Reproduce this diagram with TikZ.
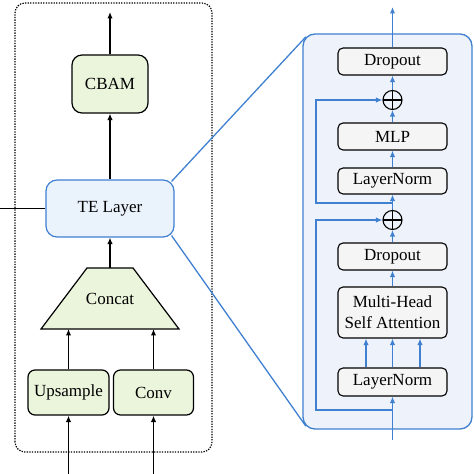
\documentclass[tikz,border=0pt]{standalone}
\usepackage{fontspec}
\setmainfont{Liberation Serif}
\usepackage{tikz}
\usetikzlibrary{positioning,arrows.meta,calc}
\pgfdeclarelayer{background}
\pgfsetlayers{background,main}

\definecolor{cbamgreen}{HTML}{EBF5DC}
\definecolor{teblue}{HTML}{3F80D0}
\definecolor{tefill}{HTML}{EAF2FC}
\definecolor{panelfill}{HTML}{EEF3FB}
\definecolor{blockgray}{HTML}{F5F5F5}

\begin{document}
\begin{tikzpicture}[x=1pt,y=1pt,
			font=\rmfamily\fontsize{17}{21}\selectfont,
			>={Latex[length=6.5pt,width=5.5pt]},
			greenbox/.style={draw=black, line width=1.2pt, fill=cbamgreen, rounded corners=10pt, inner sep=0pt},
			tebox/.style={draw=teblue, line width=1.2pt, fill=tefill, rounded corners=11pt, inner sep=0pt, minimum width=128pt, minimum height=57pt},
			graybox/.style={draw=black, line width=1.1pt, fill=blockgray, rounded corners=5pt, inner sep=0pt, minimum width=109pt},
			plusnode/.style={circle, draw=black, line width=1.1pt, fill=panelfill, minimum size=19pt, inner sep=0pt,
				path picture={\draw[black, line width=1.1pt] (path picture bounding box.north) -- (path picture bounding box.south)
					(path picture bounding box.west) -- (path picture bounding box.east);}},
			flow/.style={draw=teblue, line width=1.3pt},
			blackflow/.style={draw=black, line width=1.4pt},
			]
			\useasboundingbox (0,0) rectangle (474,474);
			%Nodes
			\node[greenbox, minimum width=76pt, minimum height=58pt]      (cbam)  at (110,390)   {CBAM};
			\node[tebox]                                                   (te)    at (110,265.5) {TE Layer};
			\coordinate (cbl) at (41,145);
			\coordinate (cbr) at (179,145);
			\coordinate (ctr) at (133,206);
			\coordinate (ctl) at (87,206);
			\coordinate (ctop) at (110,206);
			\draw[line width=1.2pt, fill=cbamgreen] (cbl) -- (cbr) -- (ctr) -- (ctl) -- cycle;
			\node                                                          (concat) at (110,175.5) {Concat};
			\node[greenbox, rounded corners=7pt, minimum width=81pt, minimum height=45pt] (ups)  at (68.5,81.5) {Upsample};
			\node[greenbox, rounded corners=7pt, minimum width=80pt, minimum height=45pt] (conv) at (153.5,81.5) {Conv};
			
			\node[graybox, minimum height=27pt]  (drop1) at (392.5,412.5) {Dropout};
			\node[plusnode]                      (plus1) at (392.5,374)   {};
			\node[graybox, minimum height=27pt]  (mlp)   at (392.5,337.5) {MLP};
			\node[graybox, minimum height=26pt]  (ln1)   at (392.5,293)   {LayerNorm};
			\node[plusnode]                      (plus2) at (392.5,254)   {};
			\node[graybox, minimum height=27pt]  (drop2) at (392.5,217.5) {Dropout};
			\node[graybox, minimum height=51pt, align=center] (mhsa) at (392.5,161.5) {Multi-Head\\Self Attention};
			\node[graybox, minimum height=28pt]  (ln2)   at (392.5,92)    {LayerNorm};
			
			\coordinate (inU)   at (68.5,0);
			\coordinate (inC)   at (153.5,0);
			\coordinate (lft)   at (0,265.5);
			\coordinate (out)   at (110,462);
			\coordinate (tin)   at (392.5,34);
			\coordinate (tout)  at (392.5,467);
			\coordinate (br1)   at (392.5,64);
			\coordinate (br2)   at (392.5,271);
			\coordinate (loop1) at (316,254);
			\coordinate (loop2) at (316,374);
			
			\begin{pgfonlayer}{background}
			%Frames
			\draw[line width=1.2pt, dash pattern=on 1.3pt off 1.3pt, rounded corners=10pt] (15,22) rectangle (212,471);
			\node[draw=teblue, line width=1.3pt, fill=panelfill, rounded corners=12pt,
				minimum width=169pt, minimum height=395pt] (tf) at (387.5,242.5) {};
			%Lines
			\draw[blackflow,->] (inU) -- (ups.south);
			\draw[blackflow,->] (inC) -- (conv.south);
			\draw[blackflow,->] (ups.north) -- (ups.north |- cbl);
			\draw[blackflow,->] (conv.north) -- (conv.north |- cbl);
			\draw[blackflow,->] (ctop) -- (te.south);
			\draw[blackflow,->] (te.north) -- (cbam.south);
			\draw[blackflow,->] (cbam.north) -- (out);
			\draw[blackflow] (lft) -- (te.west);
			
			\draw[flow] ($(te.north east)+(-3,-2)$) -- ($(tf.north west)+(3.5,-3.5)$);
			\draw[flow] ($(te.south east)+(-3,2)$) -- ($(tf.south west)+(3.5,3.5)$);
			
			\draw[flow,->] (tin) -- (ln2.south);
			\foreach \dx in {-26.5,0,27.5}
				\draw[flow,->] ($(ln2.north)+(\dx,0)$) -- ($(mhsa.south)+(\dx,0)$);
			\draw[flow,->] (mhsa.north) -- (drop2.south);
			\draw[flow,->] (drop2.north) -- (plus2.south);
			\draw[flow,->] (plus2.north) -- (ln1.south);
			\draw[flow,->] (ln1.north) -- (mlp.south);
			\draw[flow,->] (mlp.north) -- (plus1.south);
			\draw[flow,->] (plus1.north) -- (drop1.south);
			\draw[flow,->] (drop1.north) -- (tout);
			\draw[flow,->] (br1) -| (loop1) -- (plus2.west);
			\draw[flow,->] (br2) -| (loop2) -- (plus1.west);
			\end{pgfonlayer}
		\end{tikzpicture}
\end{document}
